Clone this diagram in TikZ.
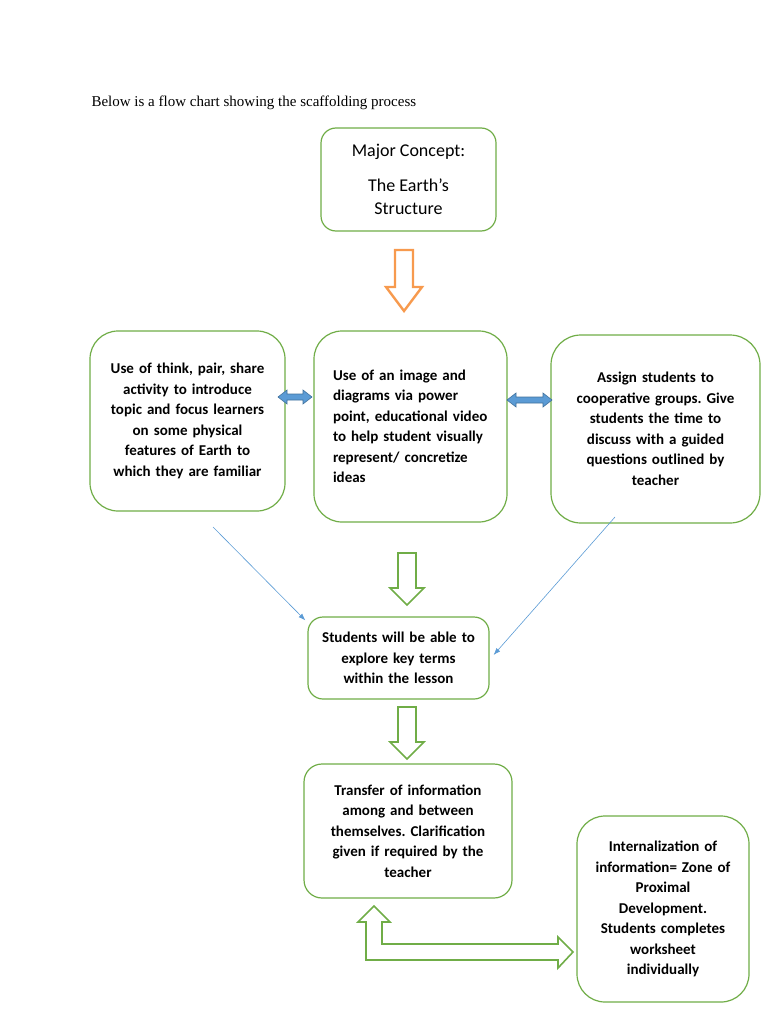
\documentclass[tikz,border=0pt]{standalone}
\usepackage{fontspec}
\setmainfont{Carlito}
\newfontfamily\headfont{Liberation Serif}
\usetikzlibrary{arrows.meta}
\definecolor{boxgreen}{HTML}{70AD47}
\definecolor{linkblue}{HTML}{5B9BD5}
\definecolor{linkedge}{HTML}{41719C}
\definecolor{conceptorange}{HTML}{F79A4E}
\frenchspacing
\begin{document}
\begin{tikzpicture}[x=1pt, y=-1pt,
    stagebox/.style={draw=boxgreen, line width=1.2pt, fill=white, inner sep=0pt,
      align=center, font=\bfseries\fontsize{15}{20.5}\selectfont},
    greenarrow/.style={draw=boxgreen, line width=1.6pt, fill=white, line join=miter},
    bluearrow/.style={draw=linkedge, line width=0.6pt, fill=linkblue},
    thinlink/.style={draw=linkblue, line width=0.6pt, -{Latex[length=7pt,width=5pt]}}]
        \useasboundingbox (0,0) rectangle (768,1024);
        \node [anchor=west, font=\headfont\fontsize{15}{18}\selectfont] (title) at (88,103)
          {Below is a flow chart showing the scaffolding process};
        \node [stagebox, rounded corners=15pt, minimum width=175pt, minimum height=103pt,
          font=\fontsize{18}{23}\selectfont] (concept) at (408.5,179.5)
          {Major Concept:\\[12pt]The Earth’s\\Structure};
        \node [stagebox, rounded corners=28pt, minimum width=195pt, minimum height=180pt,
          text width=175pt] (think) at (187.5,421)
          {Use of think, pair, share\\activity to introduce\\topic and focus learners\\on some physical\\features of Earth to\\which they are familiar};
        \node [stagebox, rounded corners=28pt, minimum width=193pt, minimum height=191pt,
          text width=155pt, align=left] (image) at (410.5,426.5)
          {Use of an image and\\diagrams via power\\point, educational video\\to help student visually\\represent/ concretize\\ideas};
        \node [stagebox, rounded corners=30pt, minimum width=209pt, minimum height=188pt,
          text width=185pt] (groups) at (655.5,429)
          {Assign students to\\cooperative groups. Give\\students the time to\\discuss with a guided\\questions outlined by\\teacher};
        \node [stagebox, rounded corners=15pt, minimum width=181pt, minimum height=82pt,
          text width=165pt] (explore) at (398.5,658)
          {Students will be able to\\explore key terms\\within the lesson};
        \node [stagebox, rounded corners=18pt, minimum width=208pt, minimum height=134pt,
          text width=185pt] (transfer) at (408,831)
          {Transfer of information\\among and between\\themselves. Clarification\\given if required by the\\teacher};
        \node [stagebox, rounded corners=28pt, minimum width=172pt, minimum height=186pt,
          text width=155pt] (zone) at (663,909)
          {Internalization of\\information= Zone of\\Proximal\\Development.\\Students completes\\worksheet\\individually};
        \draw [draw=conceptorange, line width=2.4pt, fill=white, line join=miter]
          (395,250) -- (413,250) -- (413,287) -- (422,287) -- (404,311) -- (386,287) -- (395,287) -- cycle;
        \draw [bluearrow] (278,397) -- (287,390) -- (287,394) -- (303,394) -- (303,390) -- (312,397)
          -- (303,404) -- (303,400) -- (287,400) -- (287,404) -- cycle;
        \draw [bluearrow] (507,400) -- (516,393) -- (516,397) -- (543,397) -- (543,393) -- (552,400)
          -- (543,407) -- (543,403) -- (516,403) -- (516,407) -- cycle;
        \draw [greenarrow] (398,553) -- (416,553) -- (416,588) -- (424,588) -- (407,605) -- (390,588) -- (398,588) -- cycle;
        \draw [greenarrow] (398,707) -- (416,707) -- (416,742) -- (424,742) -- (407,759) -- (390,742) -- (398,742) -- cycle;
        \draw [greenarrow] (374,906) -- (390,922) -- (382,922) -- (382,944) -- (558,944) -- (558,937) -- (573,952)
          -- (558,968) -- (558,960) -- (366,960) -- (366,922) -- (358,922) -- cycle;
        \coordinate (thinkfoot) at (213,527);
        \coordinate (groupsfoot) at (615,517);
        \draw [thinlink] (thinkfoot) -- ([shift={(-2,4)}]explore.north west);
        \draw [thinlink] (groupsfoot) -- ([shift={(4,-3)}]explore.east);
      \end{tikzpicture}
\end{document}
